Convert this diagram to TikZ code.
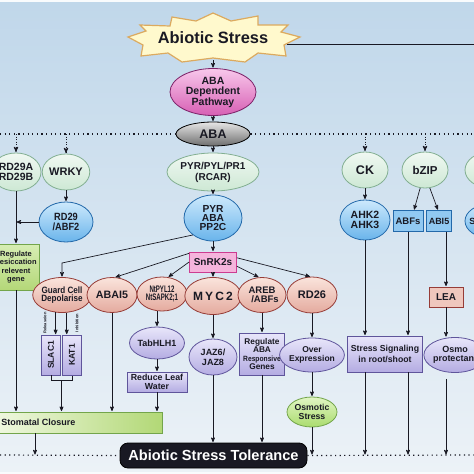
\documentclass[tikz,border=0pt]{standalone}
\usepackage{fontspec}
\setmainfont{Liberation Sans}
\newfontfamily\narrowA[FakeStretch=0.88]{Liberation Sans}
\newfontfamily\narrowB[FakeStretch=0.64]{Liberation Sans}
\usepackage{tikz}
\usetikzlibrary{arrows,shapes.geometric,positioning,calc}
\newcommand{\fsz}[2]{\fontsize{#1}{#2}\selectfont\bfseries}

\definecolor{ink}{RGB}{25,25,35}
\definecolor{bgtop}{RGB}{192,215,234}
\definecolor{bgbot}{RGB}{236,242,247}
\definecolor{paleL}{RGB}{240,248,242}
\definecolor{paleG}{RGB}{205,232,212}
\definecolor{paleD}{RGB}{130,175,145}
\definecolor{skyL}{RGB}{205,233,252}
\definecolor{skyM}{RGB}{105,180,235}
\definecolor{skyD}{RGB}{35,105,170}
\definecolor{roseL}{RGB}{250,228,220}
\definecolor{roseM}{RGB}{228,170,158}
\definecolor{roseD}{RGB}{150,60,55}
\definecolor{lilacL}{RGB}{232,230,250}
\definecolor{lilacM}{RGB}{180,172,226}
\definecolor{lilacD}{RGB}{95,85,155}
\definecolor{magL}{RGB}{248,200,235}
\definecolor{magM}{RGB}{215,95,180}
\definecolor{magD}{RGB}{125,35,105}
\definecolor{greyL}{RGB}{230,230,230}
\definecolor{greyM}{RGB}{110,110,110}
\definecolor{pinkF}{RGB}{245,180,220}
\definecolor{pinkD}{RGB}{205,60,145}
\definecolor{starF}{RGB}{255,249,205}
\definecolor{starD}{RGB}{220,170,95}
\definecolor{grnL}{RGB}{215,238,180}
\definecolor{grnM}{RGB}{180,215,120}
\definecolor{grnD}{RGB}{115,165,75}
\definecolor{stomL}{RGB}{240,248,225}
\definecolor{stomR}{RGB}{178,216,118}
\definecolor{osmL}{RGB}{225,245,195}
\definecolor{osmM}{RGB}{170,220,110}

\tikzstyle{oval}      = [ellipse,draw,line width=0.8pt,inner sep=0pt,align=center,text=ink,minimum width=50,minimum height=36]
\tikzstyle{box}       = [rectangle,draw,line width=0.8pt,inner sep=0pt,align=center,text=ink]
\tikzstyle{paleoval}  = [oval,draw=paleD,top color=paleL,bottom color=paleG]
\tikzstyle{skyoval}   = [oval,draw=skyD,top color=skyL,bottom color=skyM]
\tikzstyle{roseoval}  = [oval,draw=roseD,top color=roseL,bottom color=roseM]
\tikzstyle{lilacoval} = [oval,draw=lilacD,top color=lilacL,bottom color=lilacM]
\tikzstyle{magoval}   = [oval,draw=magD,top color=magL,bottom color=magM]
\tikzstyle{greyoval}  = [oval,draw=black,top color=greyL,bottom color=greyM]
\tikzstyle{osmoval}   = [oval,draw=grnD,top color=osmL,bottom color=osmM]
\tikzstyle{skybox}    = [box,draw=skyD,fill=skyL!40!skyM]
\tikzstyle{lilacbox}  = [box,draw=lilacD,top color=lilacL,bottom color=lilacM]
\tikzstyle{rosebox}   = [box,draw=roseD,fill=roseL!50!roseM]
\tikzstyle{pinkbox}   = [box,draw=pinkD,fill=pinkF]
\tikzstyle{greenbox}  = [box,draw=grnD,top color=grnL,bottom color=grnM]
\tikzstyle{stombox}   = [box,draw=grnD,left color=stomL,right color=stomR]
\tikzstyle{tolbox}    = [box,draw=black,fill=ink,text=white,rounded corners=8pt]
\tikzstyle{starshape} = [-,fill=starF,draw=starD,line width=1.2pt]
\tikzstyle{dotline}   = [-,line width=1.2pt,dash pattern=on 1.2pt off 3.4pt]
\tikzstyle{dotarrow}  = [->,line width=0.9pt,dash pattern=on 1pt off 1.5pt]

\begin{document}
\begin{tikzpicture}[x=1pt,y=-1pt,->,>=stealth',shorten >=0.5pt,line width=0.7pt,color=ink]
\useasboundingbox (0,0) rectangle (474,474);
\clip (0,0) rectangle (474,474);
\fill[-,white!90!bgtop] (0,0) rectangle (474,474);
\fill[-,top color=bgtop,bottom color=bgbot] (0,2) rectangle (474,471);

% stress input
\filldraw[starshape] (213,13) -- (231,21) -- (258,16) -- (258,25) -- (288,25) -- (281,32)
  -- (300,37) -- (284,45) -- (286,56) -- (258,53) -- (245,62) -- (213,58) -- (182,62)
  -- (168,53) -- (141,56) -- (143,45) -- (128,37) -- (146,31) -- (140,25) -- (170,26)
  -- (172,17) -- (196,21) -- cycle;
\node[font=\fsz{16.4}{16}] (stress) at (213,38) {Abiotic Stress};
\coordinate (starbot) at (213,60);
\coordinate (hstart) at (287,44);
\coordinate (hend) at (474,44);
\draw[-,line width=1pt] (hstart) -- (hend);

\node[magoval,minimum width=86,minimum height=47,font=\fsz{10.5}{10.5}] (abadep) at (213,92) {ABA\\Dependent\\Pathway};
\node[greyoval,minimum width=74,minimum height=24,font=\fsz{12.5}{12.5}] (aba) at (213,134) {ABA};

% dotted lines
\coordinate (topL) at (0,134);
\coordinate (topR) at (474,134);
\coordinate (botL) at (0,455);
\coordinate (botR) at (474,455);
\draw[dotline] (topL) -- (aba.west);
\draw[dotline] (aba.east) -- (topR);

% first row
\node[paleoval,minimum width=50,minimum height=38,font=\fsz{10.5}{10.5}] (rdab) at (16,172) {RD29A\\RD29B};
\node[paleoval,minimum width=46,font=\fsz{11}{11}] (wrky) at (66,172) {WRKY};
\node[paleoval,minimum width=76,minimum height=38,font=\fsz{10}{11}] (pyl) at (213,172) {PYR/PYL/PR1\\(RCAR)};
\node[paleoval,minimum width=46,font=\fsz{12.5}{12.5}] (ck) at (365,170) {CK};
\node[paleoval,minimum width=46,font=\fsz{11.5}{11.5}] (bzip) at (425,170) {bZIP};
\node[paleoval,minimum width=50] (rcut) at (490,170) {};

\coordinate (t1) at (16,134);
\coordinate (t2) at (66,134);
\coordinate (t3) at (365,134);
\coordinate (t4) at (425,134);
\draw[dotarrow] (t1) -- (t1 |- rdab.north);
\draw[dotarrow] (t2) -- (t2 |- wrky.north);
\draw[dotarrow] (t3) -- (t3 |- ck.north);
\draw[dotarrow] (t4) -- (t4 |- bzip.north);

% second row
\node[skyoval,minimum width=54,minimum height=40,font=\narrowA\fsz{10.5}{10.5}] (rdabf) at (66,222) {RD29\\/ABF2};
\node[skyoval,minimum width=58,minimum height=46,font=\fsz{10.2}{8.8}] (pp2c) at (213,218) {PYR\\ABA\\PP2C};
\node[skyoval,minimum width=50,minimum height=40,font=\fsz{10.5}{10.5}] (ahk) at (365,220) {AHK2\\AHK3};
\node[skybox,minimum width=30,minimum height=21,font=\fsz{9.5}{9.5}] (abfs) at (408,221) {ABFs};
\node[skybox,minimum width=25,minimum height=21,font=\fsz{9}{9}] (abi) at (439,221) {ABI5};
\node[skyoval,minimum width=50,minimum height=34] (sc) at (490,221) {};
\node[anchor=west,font=\fsz{9}{9}] (sctext) at ([xshift=1pt]sc.west) {Sc};

\node[greenbox,minimum width=46,minimum height=46,font=\fsz{7.5}{8.2}] (desic) at (16,267) {Regulate\\desiccation\\relevent\\gene};
\node[pinkbox,minimum width=47,minimum height=20,font=\fsz{10}{10}] (snrk) at (213,262) {SnRK2s};

% third row
\node[roseoval,minimum height=35,font=\narrowA\fsz{9.2}{8.5}] (guard) at (62,295) {Guard Cell\\Depolarise};
\node[roseoval,minimum height=35,font=\fsz{10.7}{10.7}] (abai) at (112,295) {ABAI5};
\node[roseoval,minimum height=34,font=\narrowB\fsz{9.5}{8.6}] (ntpyl) at (162,294) {NtPYL12\\NtSAPK2;1};
\node[roseoval,minimum height=37,font=\fsz{12}{12}\addfontfeature{LetterSpace=18}] (myc) at (213,296) {MYC2};
\node[roseoval,minimum width=48,minimum height=35,font=\fsz{9.5}{9}] (areb) at (262,295) {AREB\\\hspace*{6pt}/ABFs};
\node[roseoval,font=\fsz{11}{11}] (rdts) at (312,295) {RD26};

% ion channels
\node[lilacbox,rotate=90,minimum width=40,minimum height=19,font=\fsz{8.5}{8.5}] (slac) at (51,355) {SLAC1};
\node[lilacbox,rotate=90,minimum width=40,minimum height=19,font=\fsz{8.5}{8.5}] (kat) at (72,355) {KAT1};
\node[rotate=90,font=\fsz{4}{4.6}] (release) at (45,323) {Release\\ion};
\node[rotate=90,font=\fsz{4}{4.6}] (inhib) at (77,323) {Inhibition};

% fourth row
\node[lilacoval,minimum width=52,minimum height=32,font=\fsz{9}{9}] (tab) at (157,343) {TabHLH1};
\node[lilacbox,minimum width=60,minimum height=20,font=\fsz{8.8}{8.6}] (leaf) at (157,382) {Reduce Leaf\\Water};
\node[lilacoval,minimum width=48,minimum height=36,font=\fsz{9}{10}] (jaz) at (213,357) {JAZ6/\\JAZ8};
\node[lilacbox,minimum width=45,minimum height=42,font=\fsz{8.3}{8.6}] (regaba) at (262,354) {Regulate\\ABA\\{\narrowA\fontsize{7.6}{8}\selectfont Responsive}\\Genes};
\node[lilacoval,minimum width=48,minimum height=34,font=\fsz{8.5}{9.5}] (over) at (312,355) {Over\\Expression};
\node[osmoval,minimum width=50,minimum height=30,font=\fsz{8.7}{8.7}] (osm) at (312,412) {Osmotic\\Stress};
\node[lilacbox,minimum width=75,minimum height=36,font=\fsz{8.7}{10.5}] (sig) at (385,354) {Stress Signaling\\in root/shoot};
\node[rosebox,minimum width=34,minimum height=20,font=\fsz{10}{10}] (lea) at (446,297) {LEA};
\node[lilacoval,minimum width=60,minimum height=35,font=\fsz{9}{9.5}] (osmo) at (455,355) {Osmo\\protectant};

% outputs
\node[stombox,minimum width=167,minimum height=21] (stom) at (78.5,422.5) {};
\node[anchor=west,font=\fsz{9}{9}] (stomtext) at ([xshift=3pt]stom.west) {Stomatal Closure};
\node[tolbox,minimum width=187,minimum height=25,font=\fsz{14.6}{14.6}] (tol) at (213.5,455.5) {Abiotic Stress Tolerance};
\draw[dotline] (botL) -- (tol.west);
\draw[dotline] (tol.east) -- (botR);

% ABA dependent chain
\path
    (starbot) edge (abadep)
    (abadep)  edge (aba)
    (aba)     edge (pyl)
    (pyl)     edge (pp2c)
    (pp2c)    edge (snrk)
    (snrk)    edge (myc)
    (myc)     edge (jaz)
    (snrk.160) edge (abai.80)
    (snrk.west) edge (ntpyl.70)
    (snrk.-10) edge (areb.100)
    (snrk.10)  edge (rdts.95)
    (areb)    edge (regaba)
    (rdts)    edge (over)
    (over)    edge (osm)
    (wrky)    edge (rdabf)
    (rdab)    edge (desic)
    (ck)      edge (ahk)
    (bzip.255) edge ([xshift=6pt]abfs.north)
    (bzip.285) edge ([xshift=-1pt]abi.north)
    (abi.south -| lea) edge (lea.north)
    (ntpyl.south -| tab) edge (tab.north)
    (tab)     edge (leaf);

\coordinate (gbend) at (62,263);
\draw (pp2c.220) -- (gbend) -- (guard.north);
\draw (rdabf.west) -- (rdabf.west -| rdab);

% guard cell branch
\draw (guard.250) -- (guard.250 |- slac.east);
\draw (guard.285) -- (guard.285 |- kat.east);
\coordinate (brk) at ($(slac.west)!.5!(kat.west)+(0,5)$);
\draw[-] (slac.west) -- (slac.west |- brk) -- (kat.west |- brk) -- (kat.west);
\draw (brk) -- (brk |- stom.north);
\draw (desic.south) -- (desic.south |- stom.north);
\draw (abai.south) -- (abai.south |- stom.north);
\draw (leaf.south) -- (leaf.south |- stom.north);

% to tolerance
\coordinate (d1) at (35,455);
\draw (d1 |- stom.south) -- (d1);
\draw (jaz.south) -- (jaz.south |- tol.north);
\draw (regaba.south) -- (regaba.south |- tol.north);
\draw (osm.south) -- (osm.south |- botR);
\draw (ahk.south) -- (ahk.south |- sig.north);
\draw (abfs.south) -- (abfs.south |- sig.north);
\draw (sig.south -| ahk) -- (ahk |- botR);
\draw (sig.south -| abfs) -- (abfs |- botR);
\draw (lea.south) -- (lea.south |- osmo.north);
\draw[shorten <=6pt] (osmo.south -| lea) -- (lea |- botR);

\end{tikzpicture}
\end{document}
